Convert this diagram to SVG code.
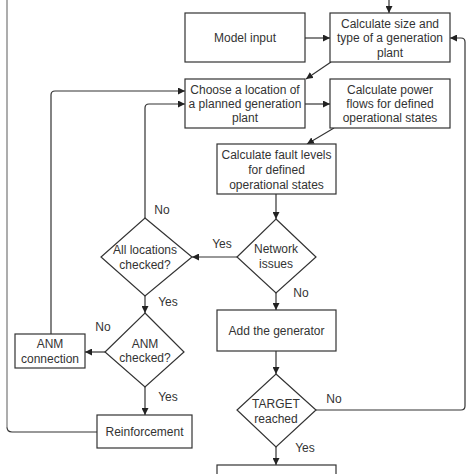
<svg xmlns="http://www.w3.org/2000/svg" width="474" height="474" viewBox="0 0 474 474">
<style>
.box{fill:#fff;stroke:#333;stroke-width:1.2}
.t{font-family:"Liberation Sans",Arial,sans-serif;font-size:12px;fill:#333;text-anchor:middle}
.c{fill:none;stroke:#333;stroke-width:1.2}
.g{fill:none;stroke:#999;stroke-width:1.6}
</style>
<defs>
<marker id="ah" markerUnits="userSpaceOnUse" markerWidth="8" markerHeight="7" refX="7" refY="3.5" orient="auto">
<path d="M0,0 L7,3.5 L0,7 z" fill="#222"/>
</marker>
</defs>
<rect width="474" height="474" fill="#fff"/>
<g id="connectors">
<path class="c" d="M389,0 V13" marker-end="url(#ah)"/>
<path class="c" d="M305,38 H330" marker-end="url(#ah)"/>
<path class="c" d="M331,62 L306,79" marker-end="url(#ah)"/>
<path class="c" d="M305,104 H330" marker-end="url(#ah)"/>
<path class="c" d="M334,128 L307,144" marker-end="url(#ah)"/>
<path class="c" d="M276,194 V219" marker-end="url(#ah)"/>
<path class="c" d="M237,257 H192" marker-end="url(#ah)"/>
<path class="c" d="M145,218 V108 Q145,104 149,104 H185" marker-end="url(#ah)"/>
<path class="c" d="M145,296 V313" marker-end="url(#ah)"/>
<path class="c" d="M276,293 V310" marker-end="url(#ah)"/>
<path class="c" d="M105,352 H85" marker-end="url(#ah)"/>
<path class="c" d="M51,334 V95 Q51,91 55,91 H185" marker-end="url(#ah)"/>
<path class="c" d="M145,387 V415" marker-end="url(#ah)"/>
<path class="c" d="M97,432 H12 Q7,432 7,427"/>
<path class="g" d="M7,428 V0"/>
<path class="c" d="M276,351 V374" marker-end="url(#ah)"/>
<path class="c" d="M316,410 H461 Q465,410 465,406 V42 Q465,38 461,38 H450" marker-end="url(#ah)"/>
<path class="c" d="M276,447 V465" marker-end="url(#ah)"/>
</g>
<g id="labels">
<text class="t" x="162" y="214">No</text>
<text class="t" x="222" y="248">Yes</text>
<text class="t" x="168" y="306">Yes</text>
<text class="t" x="301" y="297">No</text>
<text class="t" x="103" y="331">No</text>
<text class="t" x="168" y="401">Yes</text>
<text class="t" x="334" y="403">No</text>
<text class="t" x="305" y="452">Yes</text>
</g>
<g id="model-input">
<rect class="box" x="185" y="13" width="120" height="49"/>
<text class="t" x="245" y="42">Model input</text>
</g>
<g id="calc-size">
<rect class="box" x="330" y="13" width="120" height="49"/>
<text class="t" x="390" y="27.5">Calculate size and</text>
<text class="t" x="390" y="42">type of a generation</text>
<text class="t" x="390" y="56.5">plant</text>
</g>
<g id="choose-location">
<rect class="box" x="185" y="79" width="120" height="49"/>
<text class="t" x="245" y="94">Choose a location of</text>
<text class="t" x="245" y="108">a planned generation</text>
<text class="t" x="245" y="122">plant</text>
</g>
<g id="power-flows">
<rect class="box" x="330" y="79" width="120" height="49"/>
<text class="t" x="390" y="94">Calculate power</text>
<text class="t" x="390" y="108">flows for defined</text>
<text class="t" x="390" y="122">operational states</text>
</g>
<g id="fault-levels">
<rect class="box" x="217" y="144" width="119" height="50"/>
<text class="t" x="276.5" y="159">Calculate fault levels</text>
<text class="t" x="276.5" y="174">for defined</text>
<text class="t" x="276.5" y="189">operational states</text>
</g>
<g id="network-issues">
<polygon class="box" points="276,219 316,257 276,293 237,257"/>
<text class="t" x="276" y="253">Network</text>
<text class="t" x="276" y="268">issues</text>
</g>
<g id="all-locations">
<polygon class="box" points="145,218 192,257 145,296 101,257"/>
<text class="t" x="145" y="254">All locations</text>
<text class="t" x="145" y="269">checked?</text>
</g>
<g id="anm-checked">
<polygon class="box" points="145,313 184,352 145,387 105,352"/>
<text class="t" x="145" y="348">ANM</text>
<text class="t" x="145" y="362">checked?</text>
</g>
<g id="anm-connection">
<rect class="box" x="15" y="334" width="70" height="34"/>
<text class="t" x="50" y="348">ANM</text>
<text class="t" x="50" y="363">connection</text>
</g>
<g id="add-generator">
<rect class="box" x="217" y="310" width="119" height="41"/>
<text class="t" x="276.5" y="335">Add the generator</text>
</g>
<g id="reinforcement">
<rect class="box" x="97" y="415" width="95" height="33"/>
<text class="t" x="144.5" y="436">Reinforcement</text>
</g>
<g id="target-reached">
<polygon class="box" points="276,374 316,410 276,447 237,410"/>
<text class="t" x="276" y="408">TARGET</text>
<text class="t" x="276" y="423">reached</text>
</g>
<g id="final">
<rect class="box" x="217" y="465" width="119" height="20"/>
</g>
</svg>
